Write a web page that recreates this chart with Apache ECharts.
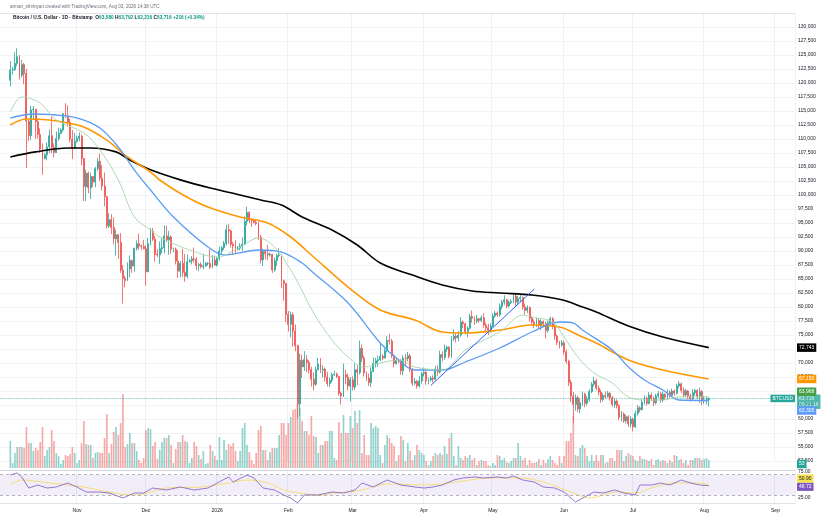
<!DOCTYPE html>
<html><head><meta charset="utf-8">
<script src="https://cdn.jsdelivr.net/npm/echarts@6/dist/echarts.min.js"></script>
<style>html,body{margin:0;padding:0;background:#fff}#c{width:834px;height:521px}</style>
</head><body><div id="c"></div>
<script>
// ---------- data (prices in thousands USD) ----------
const startDate = '2025-10-03';
const axisStart = '2025-09-29';
const axisEnd = '2026-09-09';
const firstLabelMonth = '2025-11';
const firstOpen = 120.5;
const closes = [
122.3,122.4,123.5,124.7,121.4,123.3,121.7,113.2,110.6,115.2,
115.3,113.1,110.8,108.2,106.5,107.2,108.6,110.6,108.5,107.6,
110.1,111.0,111.6,114.5,114.1,113.0,110.0,108.3,109.6,110.1,
110.5,106.5,101.5,103.9,101.3,103.3,102.3,104.7,106.0,103.0,
101.6,99.7,94.5,95.6,94.2,92.2,92.9,91.5,86.6,85.1,
84.7,86.8,88.3,87.3,90.5,91.3,90.9,90.8,90.4,86.3,
91.3,93.5,92.1,89.4,89.3,90.4,90.6,92.7,92.0,92.5,
90.3,90.3,88.2,86.4,87.8,86.2,85.5,88.1,88.3,88.6,
88.5,87.4,87.6,87.2,87.3,87.8,87.8,87.1,88.4,87.5,
88.7,90.0,90.6,91.4,93.8,93.6,91.2,90.9,90.4,90.5,
90.9,91.2,95.3,96.9,95.5,95.4,95.1,94.9,92.5,88.4,
89.9,89.5,89.3,89.4,86.6,88.3,89.2,89.3,84.7,84.2,
78.7,76.9,78.6,75.7,73.1,62.7,70.5,69.3,70.6,70.1,
68.8,67.1,66.2,68.8,69.8,68.7,68.9,67.5,66.3,66.9,
67.9,68.0,67.6,64.6,64.1,67.9,67.5,65.9,67.0,65.7,
68.8,68.3,72.6,70.9,68.2,67.3,66.5,68.5,69.9,70.4,
70.6,71.2,70.9,72.2,74.0,73.9,71.3,69.9,70.5,70.3,
68.6,70.9,70.8,71.3,68.9,66.4,66.7,65.9,66.8,68.1,
68.3,66.8,67.0,67.3,67.1,68.9,68.4,71.5,71.0,72.5,
72.8,71.2,74.3,74.8,74.5,75.0,77.3,77.0,75.6,76.2,
78.3,78.0,77.5,77.9,77.6,78.1,76.8,76.3,75.9,76.6,
78.4,78.9,78.6,80.1,80.9,81.3,80.2,80.8,81.0,82.0,
80.9,81.5,81.7,80.0,79.4,79.9,78.0,77.3,76.9,77.6,
76.6,77.4,77.0,75.8,77.2,77.9,76.5,74.8,73.7,73.2,
73.6,72.0,70.3,66.5,64.1,62.6,63.8,61.8,62.9,64.4,
62.8,63.5,64.9,66.2,66.8,65.5,64.8,63.5,64.2,64.0,
64.6,63.8,62.6,63.2,62.4,60.3,60.9,59.7,60.4,59.1,
60.0,58.6,61.0,62.0,61.7,63.0,63.7,62.8,64.3,63.6,
62.9,64.1,64.5,63.4,64.4,63.9,64.8,64.2,65.0,64.6,
65.9,66.3,65.1,64.3,65.0,64.1,63.6,64.7,65.1,64.0,
64.9,63.2,63.4,63.5,63.716];
const highs = [
123.9,122.9,125.5,126.2,125.0,124.1,123.6,122.5,113.5,115.9,
115.9,115.4,113.6,111.9,109.2,107.5,109.4,111.7,114.0,109.2,
111.3,112.0,111.9,114.6,116.4,116.0,113.6,111.6,111.1,110.6,
111.2,110.8,106.6,104.5,104.2,104.0,103.4,105.0,106.6,107.4,
105.3,104.0,99.8,96.8,96.6,96.0,93.8,93.0,93.2,87.5,
85.6,88.0,89.2,88.5,90.6,91.9,93.1,91.2,92.0,91.0,
92.3,94.1,94.1,92.7,90.3,91.7,92.3,94.6,94.5,93.6,
92.8,90.6,90.6,90.1,88.2,90.4,89.5,89.4,88.6,89.1,
90.6,88.9,87.9,88.0,89.5,88.0,88.0,90.3,89.3,89.2,
88.9,90.8,90.9,91.8,94.7,94.8,93.8,91.6,91.9,90.9,
91.4,92.4,96.2,97.9,97.1,95.9,95.6,95.5,95.3,92.9,
90.4,90.2,91.1,89.7,89.5,88.8,89.5,90.5,89.4,84.9,
84.3,79.3,79.2,79.0,76.9,73.3,71.7,71.5,72.1,71.4,
70.5,69.3,68.3,69.4,70.9,70.9,69.6,69.2,68.4,67.4,
68.3,68.6,68.3,67.6,64.9,69.9,68.8,68.1,67.5,67.6,
69.9,69.6,74.0,73.3,71.3,68.5,68.1,69.2,71.0,70.9,
71.3,73.5,71.6,72.6,74.8,75.2,74.3,71.6,71.0,70.8,
70.7,71.4,71.6,72.0,71.6,69.1,67.3,67.0,67.7,68.4,
69.2,68.7,67.4,67.7,67.8,69.5,69.6,72.2,72.1,73.3,
73.1,73.0,74.8,76.0,75.3,75.7,78.2,77.6,77.2,76.6,
78.8,79.4,78.3,78.6,78.0,78.5,78.9,77.2,77.0,77.1,
78.9,79.3,79.2,80.6,81.3,82.1,81.5,81.2,81.4,82.4,
82.3,82.0,82.2,81.9,80.6,80.3,80.1,78.4,77.8,78.1,
77.9,77.8,77.6,77.3,77.6,78.3,78.2,76.9,75.1,74.0,
74.1,74.0,72.4,70.6,67.0,64.8,64.4,64.1,63.7,64.9,
64.7,64.1,65.3,66.6,67.5,67.2,66.0,65.2,64.6,64.9,
65.0,64.8,64.1,63.8,63.5,62.6,61.4,61.2,60.8,60.7,
60.5,60.2,61.5,62.5,62.3,63.5,64.2,64.0,64.8,64.7,
64.0,64.5,65.0,64.8,64.9,64.6,65.3,65.1,65.4,65.3,
66.3,66.8,66.5,65.6,65.4,65.2,64.5,65.3,65.4,65.3,
65.6,65.2,64.1,64.0,63.792];
const lows = [
119.4,121.5,122.2,123.0,120.6,121.0,119.8,104.8,109.6,109.8,
113.4,110.0,110.1,107.5,103.6,106.4,106.2,107.5,107.5,106.7,
107.5,109.7,110.9,111.3,113.8,112.2,109.4,106.4,108.6,109.4,
109.6,105.3,98.9,98.9,100.3,99.3,101.4,101.4,104.3,102.5,
100.8,98.0,94.0,94.1,93.0,91.2,89.2,88.6,86.1,80.6,
83.5,84.7,85.3,86.1,86.3,90.1,90.2,90.2,90.3,83.8,
86.2,91.0,91.8,88.1,88.9,87.7,89.6,89.6,91.6,89.3,
89.5,89.8,87.6,85.2,85.3,85.4,84.5,85.1,87.9,87.6,
87.9,86.6,86.4,86.9,86.7,87.2,87.4,86.8,86.9,87.3,
87.2,88.3,89.3,90.2,91.0,91.3,90.6,89.3,89.6,90.1,
90.1,90.0,91.0,94.6,95.0,94.3,94.9,94.6,92.0,87.8,
87.3,88.5,88.4,89.0,86.1,86.3,87.3,88.9,83.4,81.1,
77.3,75.6,74.6,72.9,72.1,60.1,60.6,67.3,68.6,68.4,
68.1,65.8,65.1,65.9,68.7,68.2,67.4,66.7,65.8,65.7,
66.5,67.7,67.3,64.2,62.6,63.9,66.2,65.1,63.1,65.1,
65.2,66.1,67.9,70.2,67.6,66.8,65.9,65.7,68.4,69.2,
69.3,70.3,70.5,70.8,71.9,73.3,70.9,69.2,69.7,69.9,
67.9,67.8,69.6,70.3,68.4,65.9,66.1,65.4,65.6,66.3,
67.6,66.1,66.2,66.7,66.5,66.8,67.7,68.1,70.3,70.6,
72.0,70.8,70.9,73.9,73.7,73.9,74.7,76.2,75.1,74.6,
76.0,77.2,76.8,77.1,77.2,77.3,76.3,75.6,75.0,75.4,
76.4,78.1,78.2,78.3,79.6,80.4,79.8,79.9,80.5,80.7,
80.2,80.3,80.9,79.5,78.6,78.9,77.4,76.8,76.2,76.4,
76.1,75.9,76.4,74.4,75.4,76.8,76.0,74.1,73.2,72.6,
72.9,71.5,69.8,65.9,63.0,59.3,61.5,61.2,61.0,62.3,
62.1,62.4,63.1,64.6,65.8,65.1,64.2,62.9,63.1,63.6,
63.8,63.3,62.2,62.0,61.9,59.8,59.6,59.3,59.2,58.6,
58.5,57.8,58.4,60.6,61.2,61.5,62.6,62.4,62.6,63.2,
62.3,62.6,63.8,62.9,63.0,63.4,63.6,63.8,63.9,64.1,
64.4,65.5,64.6,63.9,63.9,63.5,63.1,63.3,64.2,63.6,
62.9,62.5,62.7,62.6,62.216];
const volumes = [
27,5,15,21,21,21,20,41,25,25, 17,20,18,26,41,12,18,21,38,27,
15,12,4,8,13,12,14,21,15,5, 8,25,47,24,23,23,10,15,16,15,
15,30,54,15,24,36,41,33,45,74, 21,24,35,25,25,17,8,5,10,38,
40,39,22,26,9,18,26,30,30,33, 23,5,19,26,26,33,27,26,5,10,
26,22,13,9,17,4,5,23,17,12, 8,31,8,28,18,24,22,25,17,7,
17,40,45,23,16,8,4,15,38,42, 18,18,8,16,20,20,20,33,45,45,
33,45,51,58,59,64,60,47,37,37, 33,52,32,31,15,23,23,27,27,37,
37,10,8,46,35,53,35,35,52,40, 57,45,58,15,33,13,13,45,40,42,
40,13,5,23,33,30,25,22,7,13, 32,28,7,25,17,8,13,23,18,15,
13,7,3,7,12,15,13,15,13,22, 14,30,35,12,3,22,10,8,12,10,
13,8,10,3,7,8,7,7,3,2, 5,3,13,12,8,10,6,5,7,10,
10,25,12,8,10,3,8,5,5,6, 9,3,8,5,9,12,8,5,3,12,
5,12,27,27,35,52,13,12,20,23, 20,12,7,13,7,13,7,13,13,5,
6,10,10,7,18,18,18,7,12,15, 13,12,8,7,12,9,9,8,7,9,
3,8,9,7,8,7,5,8,6,13, 12,8,9,5,8,3,8,8,10,10,
10,8,9,10,8];
// moving averages: [day offset from startDate, value in thousands]
const sma200 = [[0,106.8],[11,107.7],[25,108.4],[35,108.4],[46,107.7],[52,106.25],[61,104.5],[74,102.7],[87,101.25],[100,100.0],[109,99.1],[118,98.2],[127,96.07],[140,93.75],[151,91.07],[161,87.86],[175,85.7],[188,83.93],[201,82.86],[213,82.5],[227,82.14],[240,81.3],[249,80.0],[255,79.1],[269,76.6],[284,74.64],[304,72.743]];
const sma100 = [[0,112.5],[7,113.57],[17,113.4],[25,112.86],[32,112.14],[42,109.8],[51,106.79],[61,104.1],[65,102.68],[76,99.82],[86,97.86],[100,96.07],[112,95.0],[122,92.5],[132,88.93],[147,83.57],[161,79.46],[176,77.68],[188,75.54],[198,75.36],[213,75.89],[227,76.79],[239,76.43],[249,74.64],[255,73.57],[269,70.54],[284,68.75],[304,67.15]];
const sma50 = [[0,113.75],[10,114.46],[25,114.1],[32,113.39],[39,111.96],[47,108.57],[54,104.46],[61,100.89],[71,96.07],[86,90.71],[93,89.29],[108,90.18],[118,89.82],[127,87.86],[132,86.07],[147,80.71],[161,73.57],[169,70.54],[176,68.75],[188,68.75],[198,70.18],[213,72.68],[227,75.54],[239,77.32],[245,77.14],[249,75.89],[262,72.32],[269,69.29],[276,66.96],[284,65.18],[291,63.39],[304,63.305]];
const sma20 = [[0,114.82],[5,117.5],[13,116.43],[20,113.39],[32,111.07],[39,108.04],[47,102.68],[54,96.07],[61,93.75],[65,92.5],[78,90.18],[90,88.93],[100,90.71],[108,92.32],[115,90.71],[122,86.61],[125,84.5],[132,78.93],[140,74.11],[147,71.07],[154,69.29],[161,70.0],[169,70.54],[176,69.29],[188,68.75],[198,72.32],[213,75.54],[223,78.57],[227,78.21],[236,77.32],[241,74.64],[247,71.07],[254,68.21],[262,66.43],[269,63.93],[276,63.39],[284,63.39],[291,63.93],[304,63.968]];
const trendLine = [[183,66.0],[228,83.2]];
const rsi = [[0,69.2],[3,73.1],[5,65.4],[8,44.2],[12,50.0],[16,44.2],[20,46.2],[25,53.8],[29,46.2],[33,36.5],[39,36.5],[43,34.6],[49,25.0],[54,34.6],[58,34.6],[62,44.2],[68,40.4],[74,46.2],[80,40.4],[86,44.2],[90,53.8],[95,65.4],[97,55.8],[103,69.2],[106,63.5],[110,44.2],[115,40.4],[119,30.8],[122,25.0],[125,15.4],[128,30.8],[134,30.8],[140,36.5],[145,34.6],[150,40.4],[153,53.8],[158,46.2],[164,59.6],[170,50.0],[176,46.2],[180,44.2],[184,46.2],[188,50.0],[193,59.6],[197,63.5],[202,65.4],[206,63.5],[212,65.4],[216,63.5],[219,67.3],[223,59.6],[228,55.8],[232,46.2],[237,44.2],[241,36.5],[244,25.0],[246,17.3],[250,26.9],[254,36.5],[258,34.6],[263,40.4],[267,34.6],[272,30.8],[274,50.0],[279,50.0],[283,53.8],[287,50.0],[292,59.6],[296,53.8],[300,50.0],[304,48.72]];
const rsiMA = [[0,50.0],[5,59.6],[14,55.8],[25,50.0],[32,46.2],[43,36.5],[54,30.8],[61,36.5],[68,44.2],[83,46.2],[95,53.8],[103,59.6],[112,53.8],[119,40.4],[126,34.6],[134,30.8],[141,34.6],[151,38.5],[165,51.9],[180,50.0],[194,55.8],[209,63.5],[220,63.5],[232,55.8],[244,36.5],[252,25.0],[264,36.5],[272,34.6],[279,44.2],[289,53.8],[298,53.8],[304,50.9]];
const rsiLevels = [30, 70];
const monthNames = ['Jan','Feb','Mar','Apr','May','Jun','Jul','Aug','Sep','Oct','Nov','Dec'];
const headerLine = 'arman_shirinyan created with TradingView.com, Aug 03, 2026 14:38 UTC';
const symbolName = 'Bitcoin / U.S. Dollar · 1D · Bitstamp';
const ohlcText = {O:'63,580', H:'63,792', L:'62,216', C:'63,716', chg:'+216 (+0.34%)'};
const tickerName = 'BTCUSD';
const countdown = '09:21:16';
const volumeTag = '53';

// ---------- build ----------
const K = 1000;
const FONT = '"Liberation Sans", Arial, sans-serif';
const UP = '#26a69a', DN = '#ef5350';
const UPV = 'rgba(38,166,154,0.5)', DNV = 'rgba(239,83,80,0.5)';
const HIDE = { color: 'rgba(0,0,0,0)', width: 0 };
function addDays(s, n){ const d = new Date(s + 'T00:00:00Z'); d.setUTCDate(d.getUTCDate() + n); return d.toISOString().slice(0,10); }
const cats = [];
for (let s = axisStart; s <= axisEnd; s = addDays(s, 1)) cats.push(s);
const off = cats.indexOf(startDate);
const candle = cats.map(() => '-');
const vol = cats.map(() => '-');
let prev = firstOpen;
closes.forEach((c, i) => {
  const o = prev;
  candle[off + i] = [o * K, c * K, lows[i] * K, highs[i] * K];
  vol[off + i] = { value: volumes[i], itemStyle: { color: c >= o ? UPV : DNV } };
  prev = c;
});
const toXY = (arr, k) => arr.map(([d, v]) => [off + d, v * k]);
const fmt = v => Math.round(v).toLocaleString('en-US');
const isMonthStart = (i, v) => typeof v === 'string' && v.slice(8) === '01' && v.slice(0, 7) >= firstLabelMonth;
const last = arr => arr[arr.length - 1][1];

function tag(val, bg, fg, dy, text){
  return { yAxis: val, lineStyle: HIDE,
    label: { show: true, position: 'end', distance: 2, formatter: text, backgroundColor: bg, color: fg,
      fontSize: 5, fontFamily: FONT, padding: [1.5, 2, 1, 2], offset: [0, dy], lineHeight: 6 } };
}
function maSeries(name, arr, color, width, tagColor, tagFg, dy){
  const v = last(arr) * K;
  return { name, type: 'line', xAxisIndex: 0, yAxisIndex: 0, data: toXY(arr, K), smooth: 0.35,
    showSymbol: false, symbol: 'none', z: 6, lineStyle: { color, width }, silent: true,
    markLine: { symbol: 'none', silent: true, animation: false, data: [tag(v, tagColor, tagFg, dy, fmt(v))] } };
}

const lastClose = closes[closes.length - 1] * K;
const axisTxt = { fontSize: 5, color: '#131722', fontFamily: FONT };

const option = {
  animation: false,
  backgroundColor: '#fff',
  title: [
    { text: headerLine, left: 10, top: 4.5, padding: 0, textStyle: { fontSize: 4.6, color: '#6a6d78', fontWeight: 'normal', fontFamily: FONT } },
    { text: '{n|' + symbolName + '}  {k|O}{v|' + ohlcText.O + '} {k|H}{v|' + ohlcText.H + '} {k|L}{v|' + ohlcText.L + '} {k|C}{v|' + ohlcText.C + '} {v|' + ohlcText.chg + '}',
      left: 13, top: 15.5, padding: 0,
      textStyle: { fontSize: 4.8, fontFamily: FONT, rich: {
        n: { fontSize: 4.8, color: '#131722', fontFamily: FONT },
        k: { fontSize: 4.8, color: '#131722', fontFamily: FONT },
        v: { fontSize: 4.8, color: '#089981', fontFamily: FONT } } } }
  ],
  grid: [
    { left: 0, right: 39, top: 13, height: 448 },
    { left: 0, right: 39, top: 390, height: 78 },
    { left: 0, right: 39, top: 459, height: 52 },
    { left: 0, right: 39, top: 470, height: 33 }
  ],
  xAxis: [
    { type: 'category', gridIndex: 0, data: cats, position: 'top', boundaryGap: true,
      axisLine: { show: true, lineStyle: { color: '#e0e3eb', width: 1 } }, axisTick: { show: false }, axisLabel: { show: false },
      splitLine: { show: true, interval: isMonthStart, lineStyle: { color: '#eef0f4', width: 1 } } },
    { type: 'category', gridIndex: 1, data: cats, show: false, boundaryGap: true },
    { type: 'category', gridIndex: 2, data: cats, show: false, boundaryGap: true },
    { type: 'category', gridIndex: 3, data: cats, position: 'bottom', boundaryGap: true,
      axisLine: { show: true, lineStyle: { color: '#e0e3eb' } }, axisTick: { show: false },
      axisLabel: Object.assign({ interval: isMonthStart, margin: 5,
        formatter: v => { const m = +v.slice(5, 7); return m === 1 ? v.slice(0, 4) : monthNames[m - 1]; } }, axisTxt),
      splitLine: { show: true, interval: isMonthStart, lineStyle: { color: '#eef0f4', width: 1 } } },
    { type: 'category', gridIndex: 3, data: cats, position: 'top', boundaryGap: true,
      axisLine: { show: true, lineStyle: { color: '#d1d4dc' } }, axisTick: { show: false }, axisLabel: { show: false } }
  ],
  yAxis: [
    { type: 'value', gridIndex: 0, position: 'right', min: 52500, max: 132500, interval: 2500, scale: false,
      axisLine: { show: false }, axisTick: { show: false },
      axisLabel: Object.assign({ margin: 3, showMaxLabel: false, formatter: v => fmt(v) }, axisTxt),
      splitLine: { show: true, lineStyle: { color: '#f2f3f6', width: 1 } } },
    { type: 'value', gridIndex: 1, min: 0, max: 78, show: false },
    { type: 'value', gridIndex: 2, position: 'right', min: 0, max: 100, interval: 25,
      axisLine: { show: false }, axisTick: { show: false }, splitLine: { show: false },
      axisLabel: Object.assign({ margin: 3, showMinLabel: false, showMaxLabel: false,
        formatter: v => (v === 25 || v === 75) ? v.toFixed(2) : '' }, axisTxt) },
    { type: 'value', gridIndex: 3, show: false }
  ],
  series: [
    { name: 'Volume', type: 'bar', xAxisIndex: 1, yAxisIndex: 1, data: vol, barWidth: '72%', z: 1, silent: true,
      markLine: { symbol: 'none', silent: true, animation: false,
        data: [tag(volumes[volumes.length - 1], '#26a69a', '#fff', 4, volumeTag)] } },
    { name: 'BTCUSD', type: 'candlestick', xAxisIndex: 0, yAxisIndex: 0, data: candle, barWidth: '62%', z: 5, silent: true,
      itemStyle: { color: UP, color0: DN, borderColor: UP, borderColor0: DN, borderWidth: 0.8 },
      markLine: { symbol: 'none', silent: true, animation: false, data: [
        { yAxis: lastClose, lineStyle: { color: '#26a69a', type: 'dotted', width: 0.8, opacity: 0.8 },
          label: { show: true, position: 'end', distance: 2, formatter: fmt(lastClose) + '\n' + countdown,
            backgroundColor: '#26a69a', color: '#fff', fontSize: 5, fontFamily: FONT, padding: [1.5, 2, 1, 2], lineHeight: 6, offset: [0, 3.5] } },
        { yAxis: lastClose, lineStyle: HIDE,
          label: { show: true, position: 'insideEndTop', distance: 0, formatter: tickerName,
            backgroundColor: '#26a69a', color: '#fff', fontSize: 5, fontFamily: FONT, padding: [1.5, 2, 1, 2], offset: [0, 4] } }
      ] } },
    maSeries('SMA200', sma200, '#000000', 1.6, '#000000', '#fff', 0),
    maSeries('SMA100', sma100, '#ff9800', 1.6, '#ff9800', '#fff', 0),
    maSeries('SMA50', sma50, '#5b9cf6', 1.3, '#5b9cf6', '#fff', 10),
    maSeries('SMA20', sma20, '#a5d6a7', 0.9, '#43a047', '#fff', -5),
    { name: 'Trend', type: 'line', xAxisIndex: 0, yAxisIndex: 0, data: toXY(trendLine, K), showSymbol: false, symbol: 'none',
      z: 7, lineStyle: { color: '#2962ff', width: 1 }, silent: true },
    { name: 'RSI', type: 'line', xAxisIndex: 2, yAxisIndex: 2, data: toXY(rsi, 1), showSymbol: false, symbol: 'none',
      z: 4, lineStyle: { color: '#7e57c2', width: 0.8 }, silent: true,
      markArea: { silent: true, itemStyle: { color: 'rgba(126,87,194,0.1)' }, data: [[{ yAxis: rsiLevels[0] }, { yAxis: rsiLevels[1] }]] },
      markLine: { symbol: 'none', silent: true, animation: false, data: [
        { yAxis: rsiLevels[0], lineStyle: { color: '#9598a1', type: [3, 3], width: 0.7 }, label: { show: false } },
        { yAxis: rsiLevels[1], lineStyle: { color: '#9598a1', type: [3, 3], width: 0.7 }, label: { show: false } },
        tag(last(rsi), '#7e57c2', '#fff', 1, last(rsi).toFixed(2))
      ] } },
    { name: 'RSI MA', type: 'line', xAxisIndex: 2, yAxisIndex: 2, data: toXY(rsiMA, 1), smooth: 0.4, showSymbol: false, symbol: 'none',
      z: 3, lineStyle: { color: '#f5d85a', width: 0.8 }, silent: true,
      markLine: { symbol: 'none', silent: true, animation: false, data: [
        tag(last(rsiMA), '#f7e35a', '#131722', -6, last(rsiMA).toFixed(2))
      ] } }
  ]
};
const chart = echarts.init(document.getElementById('c'), null, { renderer: 'canvas' });
chart.setOption(option);
</script>
</body></html>
